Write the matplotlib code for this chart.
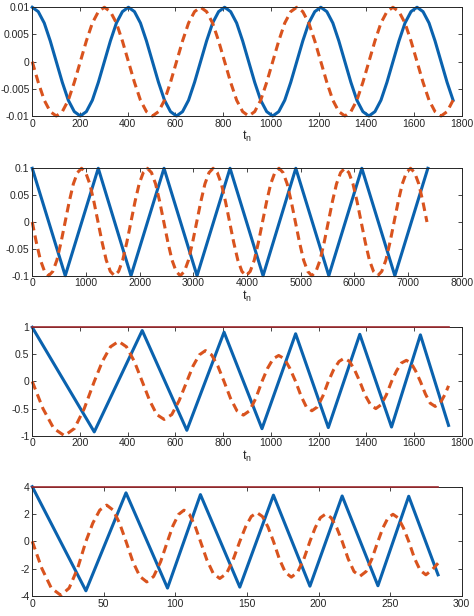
import matplotlib
matplotlib.use("Agg")
import matplotlib.pyplot as plt
import numpy as np

plt.rcParams["font.family"] = ["Liberation Sans", "DejaVu Sans"]
plt.rcParams["mathtext.default"] = "regular"

blue = "#0A62AE"
orange = "#D9531E"
darkred = "#9E2A2F"

# panel 1: small amplitude, sampled every 25.2 time units
p1_step = 25.2
p1_blue = [0.01, 0.0092, 0.0071, 0.0038, 0, -0.0038, -0.0071, -0.0092,
           -0.01, -0.0092, -0.0071, -0.0038, 0, 0.0038, 0.0071, 0.0092,
           0.01, 0.0092, 0.0071, 0.0038, 0, -0.0038, -0.0071, -0.0092,
           -0.01, -0.0092, -0.0071, -0.0038, 0, 0.0038, 0.0071, 0.0092,
           0.01, 0.0092, 0.0071, 0.0038, 0, -0.0038, -0.0071, -0.0092,
           -0.01, -0.0092, -0.0071, -0.0038, 0, 0.0038, 0.0071, 0.0092,
           0.01, 0.0092, 0.0071, 0.0038, 0, -0.0038, -0.0071, -0.0092,
           -0.01, -0.0092, -0.0071, -0.0038, 0, 0.0038, 0.0071, 0.0092,
           0.01, 0.0092, 0.0071, 0.0038, 0, -0.0038, -0.0071]
p1_orange = [0, -0.0038, -0.0071, -0.0092, -0.01, -0.0092, -0.0071, -0.0038,
             0, 0.0038, 0.0071, 0.0092, 0.01, 0.0092, 0.0071, 0.0038,
             0, -0.0038, -0.0071, -0.0092, -0.01, -0.0092, -0.0071, -0.0038,
             0, 0.0038, 0.0071, 0.0092, 0.01, 0.0092, 0.0071, 0.0038,
             0, -0.0038, -0.0071, -0.0092, -0.01, -0.0092, -0.0071, -0.0038,
             0, 0.0038, 0.0071, 0.0092, 0.01, 0.0092, 0.0071, 0.0038,
             0, -0.0038, -0.0071, -0.0092, -0.01, -0.0092, -0.0071, -0.0038,
             0, 0.0038, 0.0071, 0.0092, 0.01, 0.0092, 0.0071, 0.0038,
             0, -0.0038, -0.0071, -0.0092, -0.01, -0.0092, -0.0071]

# panel 2: triangle wave (corners) and sampled dashed curve
p2_blue_t = [0, 615, 1230, 1840, 2455, 3070, 3685, 4300, 4910, 5525, 6140, 6755, 7370]
p2_blue_y = [0.1, -0.1, 0.1, -0.1, 0.1, -0.1, 0.1, -0.1, 0.1, -0.1, 0.1, -0.1, 0.1]
p2_step = 76.6
p2_orange = [0, -0.038, -0.071, -0.092, -0.1, -0.092, -0.071, -0.038,
             0, 0.038, 0.071, 0.092, 0.1, 0.092, 0.071, 0.038,
             0, -0.038, -0.071, -0.092, -0.1, -0.092, -0.071, -0.038,
             0, 0.038, 0.071, 0.092, 0.1, 0.092, 0.071, 0.038,
             0, -0.038, -0.071, -0.092, -0.1, -0.092, -0.071, -0.038,
             0, 0.038, 0.071, 0.092, 0.1, 0.092, 0.071, 0.038,
             0, -0.038, -0.071, -0.092, -0.1, -0.092, -0.071, -0.038,
             0, 0.038, 0.071, 0.092, 0.1, 0.092, 0.071, 0.038,
             0, -0.038, -0.071, -0.092, -0.1, -0.092, -0.071, -0.038,
             0, 0.038, 0.071, 0.092, 0.1, 0.092, 0.071, 0.038,
             0, -0.038, -0.071, -0.092, -0.1, -0.092, -0.071, -0.038,
             0, 0.038, 0.071, 0.092, 0.1, 0.092, 0.071, 0.038,
             0]

# panel 3
p3_blue_t = [0, 260, 461, 648, 804, 963, 1104, 1241, 1373, 1506, 1627, 1745]
p3_blue_y = [1.0, -0.93, 0.94, -0.9, 0.91, -0.87, 0.88, -0.85, 0.87, -0.84, 0.86, -0.81]
p3_orange_t = [0, 45, 90, 135, 177, 218, 260, 294, 328, 362, 395, 428, 461,
               492, 522, 553, 585, 616, 648, 674, 700, 726, 752, 778, 804,
               831, 858, 885, 911, 937, 963, 986, 1010, 1033, 1057, 1080, 1104,
               1127, 1149, 1172, 1195, 1218, 1241, 1263, 1286, 1308, 1330, 1351, 1373,
               1395, 1418, 1440, 1462, 1484, 1506, 1527, 1547, 1568, 1588, 1607, 1627,
               1648, 1668, 1689, 1710, 1731, 1745]
p3_orange_y = [0, -0.5, -0.866, -1.0, -0.866, -0.5, 0, 0.37, 0.64, 0.74, 0.64, 0.37, 0,
               -0.35, -0.61, -0.70, -0.61, -0.35, 0, 0.285, 0.49, 0.57, 0.49, 0.285, 0,
               -0.31, -0.54, -0.62, -0.54, -0.31, 0, 0.24, 0.42, 0.48, 0.42, 0.24, 0,
               -0.27, -0.47, -0.54, -0.47, -0.27, 0, 0.215, 0.37, 0.43, 0.37, 0.215, 0,
               -0.25, -0.43, -0.50, -0.43, -0.25, 0, 0.195, 0.34, 0.39, 0.34, 0.195, 0,
               -0.23, -0.40, -0.46, -0.40, -0.23, -0.08]
p3_top = 1.0

# panel 4
p4_blue_t = [0, 37.5, 65.5, 94.5, 117.5, 145, 168.5, 194, 216.5, 241.5, 263, 283.5]
p4_blue_y = [4.0, -3.62, 3.55, -3.42, 3.42, -3.35, 3.38, -3.28, 3.32, -3.25, 3.3, -2.45]
p4_orange_t = [0, 6.7, 13.3, 20, 25.8, 31.7, 37.5, 42.3, 47.2, 52, 56.5, 61, 65.5,
               70.3, 75.2, 80, 84.8, 89.7, 94.5, 98.3, 102.2, 106, 109.8, 113.7, 117.5,
               122, 126.5, 131, 135.7, 140.3, 145, 149, 153, 157, 160.8, 164.7, 168.5,
               172.7, 176.8, 181, 185.3, 189.7, 194, 197.7, 201.3, 205, 208.8, 212.7, 216.5,
               220.7, 224.8, 229, 233.2, 237.3, 241.5, 245, 248.5, 252, 255.7, 259.3, 263,
               267, 271, 275, 279, 283.5]
p4_orange_y = [0, -1.98, -3.42, -3.95, -3.42, -1.98, 0, 1.33, 2.29, 2.65, 2.29, 1.33, 0,
               -1.49, -2.57, -2.97, -2.57, -1.49, 0, 1.14, 1.97, 2.28, 1.97, 1.14, 0,
               -1.36, -2.36, -2.72, -2.36, -1.36, 0, 1.05, 1.82, 2.1, 1.82, 1.05, 0,
               -1.31, -2.27, -2.62, -2.27, -1.31, 0, 1.0, 1.73, 2.0, 1.73, 1.0, 0,
               -1.28, -2.21, -2.55, -2.21, -1.28, 0, 0.99, 1.71, 1.98, 1.71, 0.99, 0,
               -1.23, -2.12, -2.45, -2.12, -1.6]
p4_top = 4.0

xlims = [(0, 1800), (0, 8000), (0, 1800), (0, 300)]
ylims = [(-0.01, 0.01), (-0.1, 0.1), (-1, 1), (-4, 4)]
yticks = [[-0.01, -0.005, 0, 0.005, 0.01], [-0.1, -0.05, 0, 0.05, 0.1],
          [-1, -0.5, 0, 0.5, 1], [-4, -2, 0, 2, 4]]
yticklabels = [["-0.01", "-0.005", "0", "0.005", "0.01"],
               ["-0.1", "-0.05", "0", "0.05", "0.1"],
               ["-1", "-0.5", "0", "0.5", "1"],
               ["-4", "-2", "0", "2", "4"]]

fig = plt.figure(figsize=(4.74, 6.16), dpi=100)
bottoms = [0.8117, 0.5524, 0.2927, 0.0325]
heights = [0.1765, 0.1744, 0.176, 0.1774]
axes = [fig.add_axes([0.068, b, 0.906, h]) for b, h in zip(bottoms, heights)]

dash = (2.8, 1.7)
lw = 2.2

ax = axes[0]
ax.plot(np.arange(len(p1_blue)) * p1_step, p1_blue, color=blue, lw=lw, clip_on=False)
ax.plot(np.arange(len(p1_orange)) * p1_step, p1_orange, color=orange, lw=lw,
        dashes=dash, clip_on=False)

ax = axes[1]
ax.plot(p2_blue_t, p2_blue_y, color=blue, lw=lw, clip_on=False)
ax.plot(np.arange(len(p2_orange)) * p2_step, p2_orange, color=orange, lw=lw,
        dashes=dash, clip_on=False)

ax = axes[2]
ax.plot(p3_blue_t, p3_blue_y, color=blue, lw=lw, clip_on=False)
ax.plot(p3_orange_t, p3_orange_y, color=orange, lw=lw, dashes=dash, clip_on=False)
ax.plot([p3_orange_t[0], p3_orange_t[-1]], [p3_top, p3_top], color=darkred, lw=1.2,
        clip_on=False, zorder=5)

ax = axes[3]
ax.plot(p4_blue_t, p4_blue_y, color=blue, lw=lw, clip_on=False)
ax.plot(p4_orange_t, p4_orange_y, color=orange, lw=lw, dashes=dash, clip_on=False)
ax.plot([p4_orange_t[0], p4_orange_t[-1]], [p4_top, p4_top], color=darkred, lw=1.2,
        clip_on=False, zorder=5)

for i, ax in enumerate(axes):
    ax.set_xlim(*xlims[i])
    ax.set_ylim(*ylims[i])
    ax.set_yticks(yticks[i])
    ax.set_yticklabels(yticklabels[i])
    ax.tick_params(direction="in", length=3, width=0.6, top=True, right=True,
                   labelsize=7.5, colors="#262626", pad=2)
    for s in ax.spines.values():
        s.set_linewidth(0.7)
        s.set_color("#262626")
    if i < 3:
        ax.set_xlabel("$t_n$", fontsize=9, labelpad=0, color="#262626")

fig.savefig("out.png", dpi=100)
